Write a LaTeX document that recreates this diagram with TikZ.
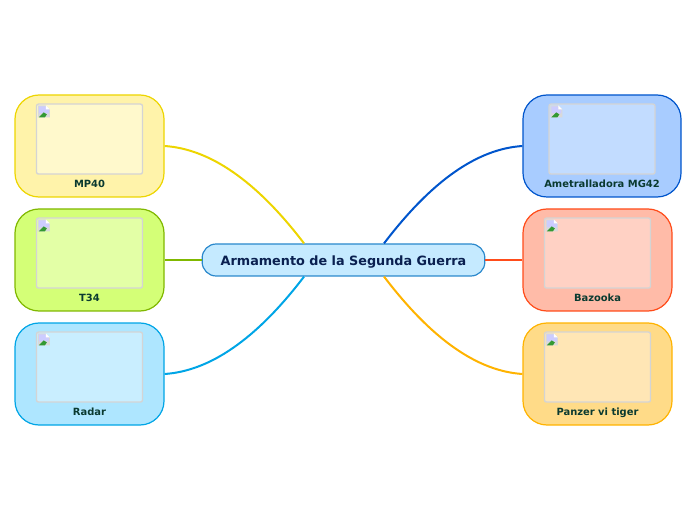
\documentclass[tikz,border=0pt]{standalone}
\usepackage{fontspec}
\setmainfont{DejaVu Sans}
\usepackage{tikz}
\usetikzlibrary{positioning}

\definecolor{rootfill}{HTML}{C5EAFF}
\definecolor{rootline}{HTML}{2A88CC}
\definecolor{roottext}{HTML}{0A2050}
\definecolor{labeltext}{HTML}{0A3A30}
\definecolor{yellowline}{HTML}{EDD500}
\definecolor{yellowfill}{HTML}{FFF3AA}
\definecolor{yellowimg}{HTML}{FFF9CC}
\definecolor{greenline}{HTML}{80B800}
\definecolor{greenfill}{HTML}{D4FF77}
\definecolor{greenimg}{HTML}{E3FFA6}
\definecolor{skyline}{HTML}{00A5E6}
\definecolor{skyfill}{HTML}{AEE6FF}
\definecolor{skyimg}{HTML}{C9EEFF}
\definecolor{blueline}{HTML}{0055CC}
\definecolor{bluefill}{HTML}{A8CCFF}
\definecolor{blueimg}{HTML}{C2DCFF}
\definecolor{redline}{HTML}{FF4C1A}
\definecolor{redfill}{HTML}{FFBBA8}
\definecolor{redimg}{HTML}{FFD1C4}
\definecolor{orangeline}{HTML}{FFB300}
\definecolor{orangefill}{HTML}{FFDB88}
\definecolor{orangeimg}{HTML}{FFE6B5}

\tikzset{
  root/.style={draw=rootline, fill=rootfill, line width=0.9pt, rounded corners=10.5pt,
    minimum width=212pt, minimum height=24pt, inner sep=0pt,
    text height=8.4pt, text depth=0pt,
    text=roottext, font=\bfseries\fontsize{9.6}{11}\selectfont},
  topic/.style={draw=#1line, fill=#1fill, line width=0.9pt, rounded corners=18pt,
    minimum height=76.5pt, inner sep=0pt},
  image/.style={draw=black!17, fill=#1img, line width=1pt, rounded corners=1.5pt,
    minimum width=79.5pt, minimum height=52.5pt, inner sep=0pt},
  caption/.style={text=labeltext, inner sep=0pt, font=\bfseries\fontsize{7.45}{9}\selectfont},
  branch/.style={draw=#1line, line width=1.5pt},
  brokenimg/.pic={
    \fill[black!15] (0,0) -- (8,0) -- (12,4) -- (12,12) -- (0,12) -- cycle;
    \fill[blue!20!white] (1,1) -- (8,1) -- (8,4) -- (11,4) -- (11,8) -- (1,8) -- cycle;
    \fill[green!50!black!80] (1,12) -- (6,7) -- (9,9) -- (7,12) -- cycle;
    \fill[white] (8,0) -- (12,4) -- (8,4) -- cycle;
  }
}

\begin{document}
\begin{tikzpicture}[x=0.75pt, y=-0.75pt]
  \useasboundingbox (0,0) rectangle (696,520);

  \node [root] (root) at (343.5,260) {Armamento de la Segunda Guerra};

  \node [topic=yellow, minimum width=111.75pt] (mp40) at (89.5,146) {};
  \node [topic=green, minimum width=111.75pt] (t34) at (89.5,260) {};
  \node [topic=sky, minimum width=111.75pt] (radar) at (89.5,374) {};
  \node [topic=blue, minimum width=118.5pt] (mg42) at (602,146) {};
  \node [topic=red, minimum width=111.75pt] (bazooka) at (597.5,260) {};
  \node [topic=orange, minimum width=111.75pt] (panzer) at (597.5,374) {};

  \node [image=yellow, below=6.75pt of mp40.north] (mp40img) {};
  \node [image=green, below=6.75pt of t34.north] (t34img) {};
  \node [image=sky, below=6.75pt of radar.north] (radarimg) {};
  \node [image=blue, below=6.75pt of mg42.north] (mg42img) {};
  \node [image=red, below=6.75pt of bazooka.north] (bazookaimg) {};
  \node [image=orange, below=6.75pt of panzer.north] (panzerimg) {};

  \node [caption, below=3.75pt of mp40img] (mp40txt) {MP40};
  \node [caption, below=3.75pt of t34img] (t34txt) {T34};
  \node [caption, below=3.75pt of radarimg] (radartxt) {Radar};
  \node [caption, below=3.75pt of mg42img] (mg42txt) {Ametralladora MG42};
  \node [caption, below=3.75pt of bazookaimg] (bazookatxt) {Bazooka};
  \node [caption, below=3.75pt of panzerimg] (panzertxt) {Panzer vi tiger};

  \pic at ([xshift=1.5pt, yshift=-1.5pt]mp40img.north west) {brokenimg};
  \pic at ([xshift=1.5pt, yshift=-1.5pt]t34img.north west) {brokenimg};
  \pic at ([xshift=1.5pt, yshift=-1.5pt]radarimg.north west) {brokenimg};
  \pic at ([xshift=1.5pt, yshift=-1.5pt]mg42img.north west) {brokenimg};
  \pic at ([xshift=1.5pt, yshift=-1.5pt]bazookaimg.north west) {brokenimg};
  \pic at ([xshift=1.5pt, yshift=-1.5pt]panzerimg.north west) {brokenimg};

  \coordinate (rootnl) at ([xshift=-29.6pt]root.north);
  \coordinate (rootnr) at ([xshift=30.4pt]root.north);
  \coordinate (rootsl) at ([xshift=-29.6pt]root.south);
  \coordinate (rootsr) at ([xshift=30.4pt]root.south);

  \draw [branch=yellow] (mp40.east) .. controls +(45,3) and +(-48,-63) .. (rootnl);
  \draw [branch=green] (t34.east) -- (t34.east -| root.west);
  \draw [branch=sky] (radar.east) .. controls +(45,-3) and +(-48,63) .. (rootsl);
  \draw [branch=blue] (mg42.west) .. controls +(-45,3) and +(48,-63) .. (rootnr);
  \draw [branch=red] (bazooka.west) -- (bazooka.west -| root.east);
  \draw [branch=orange] (panzer.west) .. controls +(-45,-3) and +(48,63) .. (rootsr);
\end{tikzpicture}
\end{document}
